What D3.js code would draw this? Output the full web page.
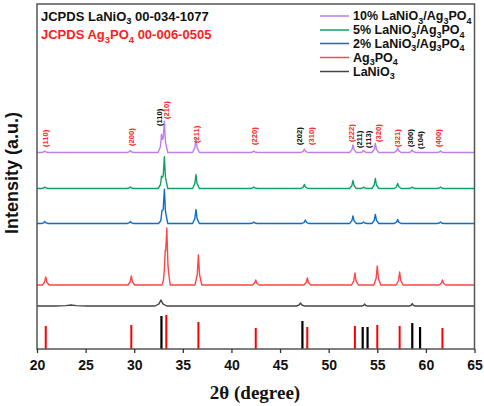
<!DOCTYPE html>
<html>
<head>
<meta charset="utf-8">
<script src="https://cdn.jsdelivr.net/npm/d3@7"></script>
<style>
body{margin:0;background:#fff;}
svg{display:block;}
</style>
</head>
<body>
<div id="chart"></div>
<script>
// series, top to bottom in the stack
var seriesNames = ["10% LaNiO_3/Ag_3PO_4", "5% LaNiO_3/Ag_3PO_4", "2% LaNiO_3/Ag_3PO_4", "Ag_3PO_4", "LaNiO_3"];
var seriesColors = ["#c07ee8", "#12a165", "#0a6ecb", "#ff4444", "#454545"];
var seriesOffset = [196.5, 160.5, 125.5, 64, 43];

// peaks: [2theta, intensity above baseline, half width]
var peaks10 = [[20.8,1.5],[29.6,2],[32.8,16],[33.1,30],[36.35,14],[42.3,1.5],[47.5,3.5],[52.5,7.5],[53.6,2],[54.8,9],[57.1,4.5],[58.6,2.5],[61.5,1.5]];
var peaks5 = [[20.8,1.5],[29.6,1.5],[32.8,10],[33.1,31],[36.35,14],[42.3,1.5],[47.5,4],[52.5,8],[53.6,1.5],[54.8,10],[57.1,5],[58.6,1.5],[61.5,1.5]];
var peaks2 = [[20.8,2],[29.6,2],[32.85,8],[33.1,33],[36.35,14],[42.3,1.5],[47.6,3.5],[52.5,7.5],[53.6,1.5],[54.8,9],[57.1,4],[61.5,1.5]];
var peaksAg = [[20.9,8],[29.7,9],[33.2,20],[33.35,51],[36.6,30],[42.5,5],[47.8,7],[52.7,12],[55.0,19],[57.3,13],[61.7,5]];
var peaksLa = [[23.5,1,1.6],[32.75,6,0.6],[47.1,3,0.4],[53.7,2,0.3],[58.6,2.5,0.3]];
var seriesPeaks = [peaks10, peaks5, peaks2, peaksAg, peaksLa];

// JCPDS reference lines
var agpoPos = [20.9,29.7,33.3,36.6,42.5,47.8,52.7,55.0,57.3,61.7];
var agpoInt = [23,24,34,27,21,22,23,24,23,21];
var lanioPos = [32.8,47.3,53.5,54.0,58.6,59.4];
var lanioInt = [33,28,22,22,26,22];

// (hkl) indices
var hklText = ["(110)","(200)","(110)","(210)","(211)","(220)","(202)","(310)","(222)","(211)","(113)","(320)","(321)","(300)","(104)","(400)"];
var hklPos = [20.9,29.7,32.55,33.25,36.4,42.4,47.0,48.2,52.3,53.2,54.05,55.1,57.1,58.4,59.4,61.3];
var hklPhase = ["Ag","Ag","La","Ag","Ag","Ag","La","Ag","Ag","La","La","Ag","Ag","La","La","Ag"];
var hklY = [202,203,223,230,206,204,204,204,207,201,201,207,202,202,200,202];

var xTicks = [20,25,30,35,40,45,50,55,60,65];

var width = 484, height = 406;
var sans = "Arial, 'Liberation Sans', sans-serif";
var svg = d3.select("#chart").append("svg").attr("width", width).attr("height", height)
    .style("font-family", sans);

var x = d3.scaleLinear().domain([20,65]).range([37,474.5]);
var y = d3.scaleLinear().domain([0,345]).range([349,4]);

// text with _n subscripts
function richText(sel, str, size){
    var shift = size*0.28, down = false;
    str.split(/(_\d)/).forEach(function(p){
        if (p == "") return;
        if (p[0] == "_") {
            sel.append("tspan").text(p.slice(1)).attr("font-size", size*0.72).attr("dy", down ? 0 : shift);
            down = true;
        } else {
            sel.append("tspan").text(p).attr("dy", down ? -shift : 0);
            down = false;
        }
    });
}

// build breakpoint profile from the peak table
function profile(peaks, offset){
    var xs = [20,65];
    peaks.forEach(function(p){
        var w = p[2] || 0.35;
        xs.push(p[0]-w, p[0]-w/3, p[0], p[0]+w/3, p[0]+w);
    });
    xs = xs.filter(function(v){ return v >= 20 && v <= 65; }).sort(d3.ascending);
    return xs.map(function(t){
        var v = 0;
        peaks.forEach(function(p){
            var w = p[2] || 0.35;
            var d = Math.abs(t - p[0]);
            if (d <= w/3) v += p[1]*(1 - 0.65*d/(w/3));
            else if (d < w) v += p[1]*0.35*(w-d)/(2*w/3);
        });
        return [t, offset + v];
    });
}

var line = d3.line().x(function(d){ return x(d[0]); }).y(function(d){ return y(d[1]); });

seriesPeaks.forEach(function(pk, i){
    svg.append("path")
        .attr("d", line(profile(pk, seriesOffset[i])))
        .attr("fill", "none")
        .attr("stroke", seriesColors[i])
        .attr("stroke-width", 1.4)
        .attr("stroke-linejoin", "round");
});

// reference sticks
svg.selectAll(".agline").data(agpoPos).enter().append("line")
    .attr("x1", function(d){ return x(d); }).attr("x2", function(d){ return x(d); })
    .attr("y1", y(0)).attr("y2", function(d, i){ return y(agpoInt[i]); })
    .attr("stroke", "#ff0000").attr("stroke-width", 2);
svg.selectAll(".laline").data(lanioPos).enter().append("line")
    .attr("x1", function(d){ return x(d); }).attr("x2", function(d){ return x(d); })
    .attr("y1", y(0)).attr("y2", function(d, i){ return y(lanioInt[i]); })
    .attr("stroke", "#000").attr("stroke-width", 2.2);

// hkl labels
svg.selectAll(".hkl").data(hklText).enter().append("text")
    .attr("transform", function(d, i){ return "translate(" + (x(hklPos[i]) + 2.7) + "," + y(hklY[i]) + ") rotate(-90)"; })
    .attr("font-size", 7.6).attr("font-weight", "bold")
    .attr("fill", function(d, i){ return hklPhase[i] == "Ag" ? "#ff2a2a" : "#111"; })
    .text(function(d){ return d; });

// frame
svg.append("rect").attr("x", x(20)).attr("y", y(345)).attr("width", x(65)-x(20)).attr("height", y(0)-y(345))
    .attr("fill", "none").attr("stroke", "#555").attr("stroke-width", 1.5);

// x axis
var xAxis = d3.axisBottom(x).tickValues(xTicks).tickSize(4).tickPadding(7);
var gx = svg.append("g").attr("transform", "translate(0," + y(0) + ")").call(xAxis);
gx.select(".domain").remove();
gx.selectAll(".tick line").attr("stroke", "#333").attr("stroke-width", 1.3);
gx.selectAll("text").attr("font-size", 14).attr("font-weight", "bold").attr("fill", "#111")
    .attr("font-family", sans);

// axis titles
svg.append("text").attr("x", 255).attr("y", 399).attr("text-anchor", "middle")
    .attr("font-family", "'Liberation Serif','Times New Roman',serif")
    .attr("font-size", 19).attr("font-weight", "bold").attr("fill", "#111")
    .text("2\u03b8 (degree)");
svg.append("text").attr("transform", "translate(18,173) rotate(-90)").attr("text-anchor", "middle")
    .attr("font-size", 18).attr("font-weight", "bold").attr("fill", "#111")
    .text("Intensity (a.u.)");

// JCPDS card labels
var t1 = svg.append("text").attr("x", 41).attr("y", 20.5).attr("font-size", 13).attr("font-weight", "bold").attr("fill", "#111");
richText(t1, "JCPDS LaNiO_3 00-034-1077", 13);
var t2 = svg.append("text").attr("x", 41).attr("y", 39).attr("font-size", 13).attr("font-weight", "bold").attr("fill", "#ff2020");
richText(t2, "JCPDS Ag_3PO_4 00-006-0505", 13);

// legend
var legY = [16, 30, 43.5, 57.5, 71.5];
seriesNames.forEach(function(name, i){
    svg.append("line").attr("x1", 320).attr("x2", 349).attr("y1", legY[i]).attr("y2", legY[i])
        .attr("stroke", seriesColors[i]).attr("stroke-width", 1.5);
    var t = svg.append("text").attr("x", 353).attr("y", legY[i] + 4)
        .attr("font-size", 12.5).attr("font-weight", "bold").attr("fill", "#111");
    richText(t, name, 12.5);
});
</script>
</body>
</html>
